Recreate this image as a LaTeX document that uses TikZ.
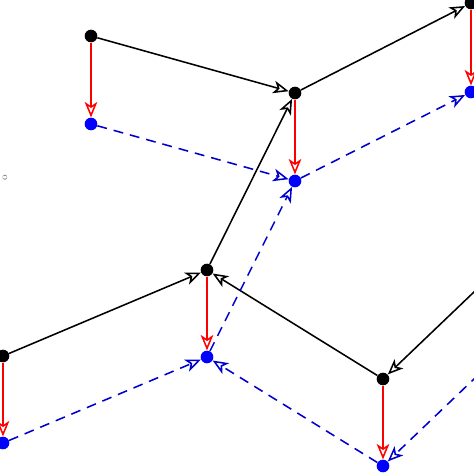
\documentclass[tikz,border=0pt]{standalone}
\usepackage{amsmath}
\usepackage{tikz}
\usetikzlibrary{arrows.meta}

\begin{document}
\begin{tikzpicture}[x=0.025cm, y=-0.025cm,
		blk/.style = {circle, fill=black, inner sep=0pt, minimum size=9pt},
		blu/.style = {circle, fill=blue, inner sep=0pt, minimum size=9pt},
		tip/.style = {-{Stealth[open, length=11pt, width=9pt, inset=3pt]}},
		pathblk/.style = {tip, line width=1.1pt, black},
		pathblu/.style = {tip, line width=1.1pt, blue!80!black, dash pattern=on 7pt off 5pt},
		drop/.style = {tip, line width=1.1pt, red}]
		\useasboundingbox (0,0) rectangle (474,474);
		\clip (0,0) rectangle (474,474);

		% black points
		\node[blk] (1) at (91,36) {};
		\node[blk] (2) at (295,93) {};
		\node[blk] (3) at (471,3) {};
		\node[blk] (4) at (207,270) {};
		\node[blk] (5) at (3,356) {};
		\node[blk] (6) at (383,379) {};
		\node[blk] (7) at (520,248) {};

		% blue points
		\node[blu] (1b) at (91,124) {};
		\node[blu] (2b) at (295,181) {};
		\node[blu] (3b) at (471,92) {};
		\node[blu] (4b) at (207,357) {};
		\node[blu] (5b) at (3,443) {};
		\node[blu] (6b) at (383,466) {};
		\node[blu] (7b) at (520,335) {};

		\draw[pathblk] (1) -- (2);
		\draw[pathblk] (4) -- (2);
		\draw[pathblk] (2) -- (3);
		\draw[pathblk] (5) -- (4);
		\draw[pathblk] (6) -- (4);
		\draw[pathblk] (7) -- (6);

		\draw[pathblu] (1b) -- (2b);
		\draw[pathblu] (4b) -- (2b);
		\draw[pathblu] (2b) -- (3b);
		\draw[pathblu] (5b) -- (4b);
		\draw[pathblu] (6b) -- (4b);
		\draw[pathblu] (7b) -- (6b);

		\foreach \p in {1,...,7}
			\draw[drop] (\p) -- (\p b);

		\node[black!60, rotate=90, font=\scriptsize] (lbl) at (5,178) {o};
	\end{tikzpicture}
\end{document}
